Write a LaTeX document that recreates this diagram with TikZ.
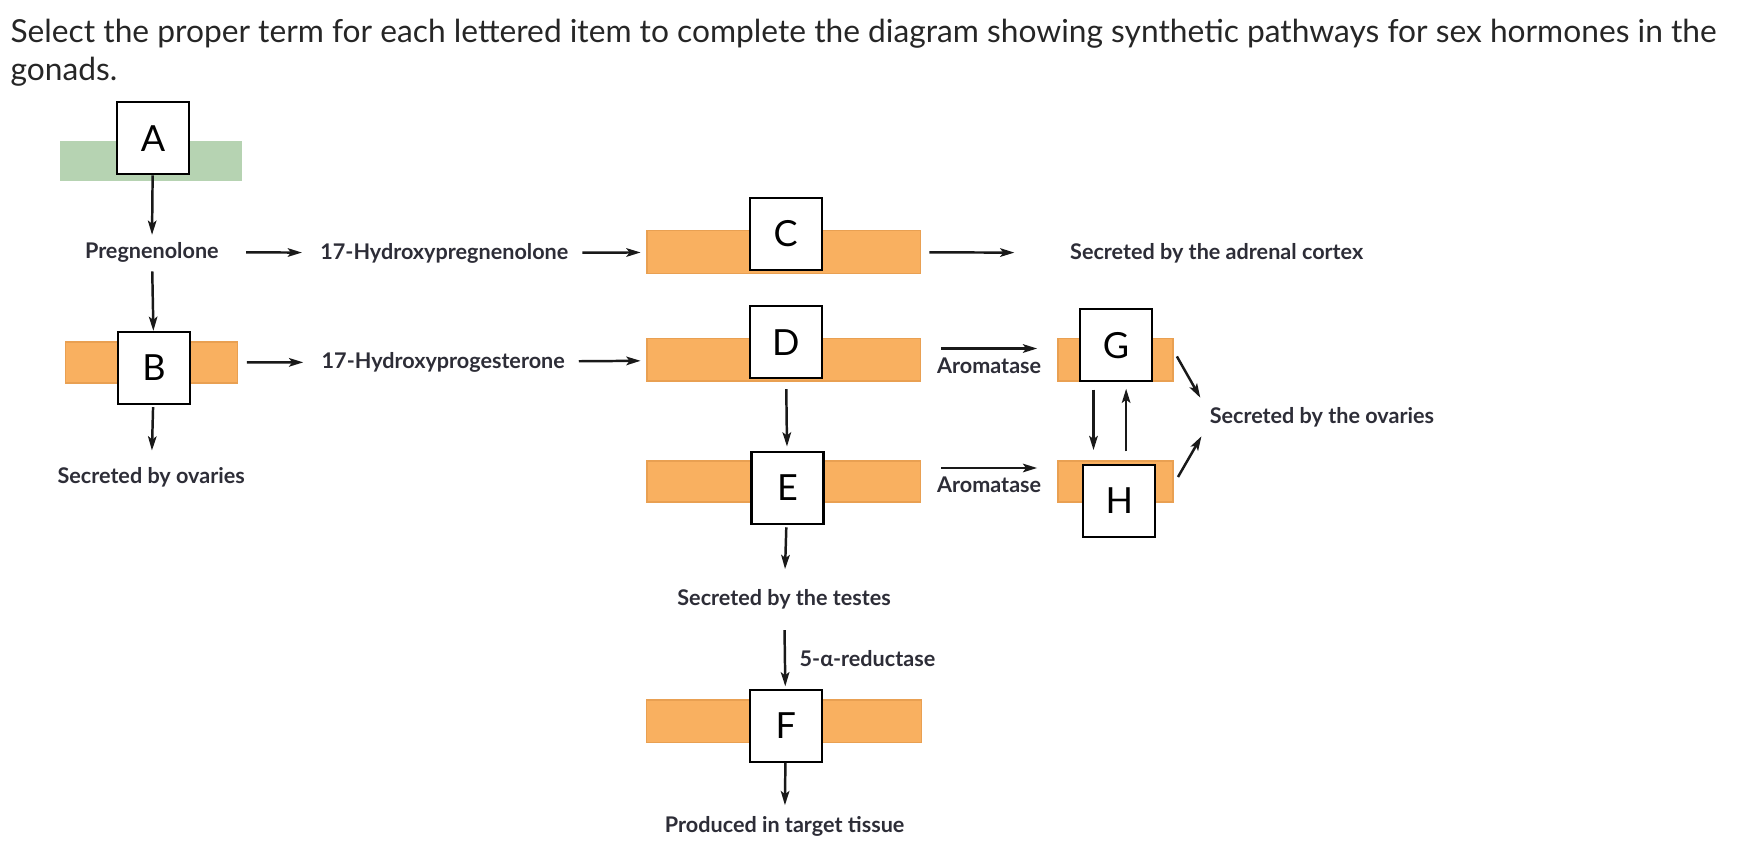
\documentclass[tikz,border=0pt]{standalone}
\usepackage{fontspec}
\setmainfont{Lato}
\usepackage{xcolor}
\usepackage{tikz}
\usetikzlibrary{arrows.meta, positioning, calc}

\definecolor{membrane}{RGB}{249,176,96}
\definecolor{membraneedge}{RGB}{233,160,82}
\definecolor{greenband}{RGB}{182,211,178}
\definecolor{labelgray}{RGB}{45,45,55}

\begin{document}
\begin{tikzpicture}[x=0.5pt, y=-0.5pt,
    letter/.style={draw=black, line width=0.9pt, fill=white, minimum width=32pt, minimum height=32pt, inner sep=0pt, font=\fontsize{16}{16}\selectfont},
    band/.style={fill=membrane, draw=membraneedge, line width=0.6pt, inner sep=0pt},
    lbl/.style={text=labelgray, font=\bfseries\fontsize{9.6}{11}\selectfont, inner sep=2pt},
    arr/.style={-{Stealth[length=6.3pt,width=3.8pt,inset=1.4pt]}, line width=1.1pt, black!90}]
    \useasboundingbox (0,0) rectangle (1568,747);

    % Title
    \node[anchor=base west, inner sep=0pt, text=black!85, font=\fontsize{14.1}{16}\selectfont] (title1) at (9,38)
        {Select the proper term for each lettered item to complete the diagram showing synthetic pathways for sex hormones in the};
    \node[anchor=base west, inner sep=0pt, text=black!85, font=\fontsize{14.1}{16}\selectfont] (title2) at (9,72) {gonads.};

    % Membranes
    \node[fill=greenband, minimum width=80.8pt, minimum height=17.8pt, inner sep=0pt] (bandA) at (134.2,143.1) {};
    \foreach \n/\x/\y/\w/\h in {bandB/134.7/322.2/76.2/18.2, bandC/696.5/224/121.5/19,
        bandD/696.5/319.8/121.5/19, bandE/696.5/428/121.5/18.3, bandF/697/641/122.2/18.8,
        bandG/991.5/319.8/51/19, bandH/991.5/428/51/18.3} {
        \node[band, minimum width=\w pt, minimum height=\h pt] (\n) at (\x,\y) {};
    }

    % Lettered boxes
    \foreach \n/\x/\y in {A/136/123, B/137/327, C/698.4/207.7, D/698.4/304.2,
        E/700/433.8, F/698.5/645, G/992/306.8, H/995/445} {
        \node[letter] (\n) at (\x,\y) {\n};
    }

    % Labels
    \node[lbl] (preg) at (135,224) {Pregnenolone};
    \node[lbl] (hpreg) at (395,225) {17-Hydroxypregnenolone};
    \node[lbl] (hprog) at (394,322) {17-Hydroxyprogesterone};
    \node[lbl] (secAd) at (1081.5,225) {Secreted by the adrenal cortex};
    \node[lbl] (secOv) at (134.4,424.6) {Secreted by ovaries};
    \node[lbl] (secOvs) at (1175,370.7) {Secreted by the ovaries};
    \node[lbl] (secTe) at (697,533) {Secreted by the testes};
    \node[lbl] (prod) at (697.5,735) {Produced in target tissue};

    % Left column
    \draw[arr, shorten >=1pt] (A) -- (preg);
    \draw[arr, shorten <=2pt] (preg) -- (B);
    \draw[arr, shorten <=1pt, shorten >=5.5pt] (B) -- (secOv);

    % Rows
    \draw[arr, shorten <=10pt, shorten >=6pt] (preg) -- (hpreg);
    \draw[arr, shorten <=4pt, shorten >=2.5pt] (hpreg) -- (bandC);
    \draw[arr, shorten <=3.7pt, shorten >=22.6pt] (bandC) -- (secAd);
    \draw[arr, shorten <=4pt, shorten >=6pt] (bandB) -- (hprog);
    \draw[arr, shorten <=4pt, shorten >=2.5pt] (hprog) -- (bandD);

    % Aromatase
    \draw[arr, shorten <=9pt, shorten >=9pt] ([yshift=5pt]bandD.east) -- node[lbl, below=1.5pt] {Aromatase} ([yshift=5pt]bandG.west);
    \draw[arr, shorten <=9pt, shorten >=9pt] ([yshift=6pt]bandE.east) -- node[lbl, below=1.5pt] {Aromatase} ([yshift=6pt]bandH.west);

    % Middle column
    \draw[arr, shorten <=4.4pt, shorten >=2pt] (D) -- (E);
    \draw[arr, shorten <=1pt, shorten >=7pt] (E) -- (secTe);
    \draw[arr, shorten <=7pt, shorten >=1pt] (secTe) -- node[lbl, right=4pt, pos=0.6] {5-α-reductase} (F);
    \draw[arr, shorten >=3pt] (F) -- (prod);

    % G and H
    \draw[arr, shorten <=3.3pt, shorten >=4.5pt] ([xshift=-10pt]G.south) -- ([xshift=-10pt]G.south |- bandH.north);
    \draw[arr, shorten <=3.9pt, shorten >=2.9pt] ([xshift=4.5pt]G.south |- bandH.north) -- ([xshift=4.5pt]G.south);
    \draw[arr] ([xshift=1.5pt, yshift=1.5pt]bandG.east) -- ([xshift=-2pt, yshift=2pt]secOvs.north west);
    \draw[arr] ([xshift=2pt, yshift=2pt]bandH.east) -- ([xshift=-1.5pt, yshift=-2pt]secOvs.south west);

\end{tikzpicture}
\end{document}
